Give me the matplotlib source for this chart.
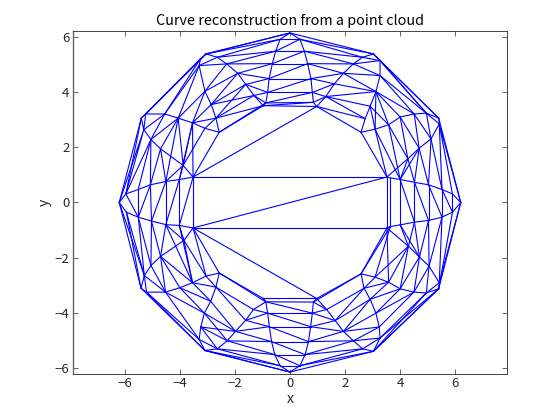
import matplotlib
matplotlib.use("Agg")
from matplotlib import pyplot as plt

plt.rcParams['font.family'] = ['Noto Sans CJK JP', 'DejaVu Sans']

# point cloud vertices
outer_names = ["E", "NE1", "NE2", "N", "NW2", "NW1", "W", "SW1", "SW2", "S", "SE2", "SE1"]
outer_x = [6.2, 5.4, 3.03, 0.0, -3.05, -5.4, -6.2, -5.41, -3.09, 0.0, 3.03, 5.4]
outer_y = [0.0, 3.05, 5.37, 6.13, 5.37, 3.05, 0.0, -3.1, -5.35, -6.13, -5.38, -3.12]

tl_names = ["lb1", "lb2", "lb3", "lc1", "lc2", "lc3", "lc4", "lc5", "ld1", "ld2", "ld3", "ld4",
            "le1", "le2", "le3", "le35", "le4", "le5", "le6", "lf0", "lf1", "lf2", "lf3", "lf4",
            "lg1", "lg2", "lg3", "lg4", "lg5", "lg6", "lg7", "lh1", "lc45"]
tl_x = [-5.24, -5.31, -5.05, -4.55, -4.06, -3.54, -2.69, -2.57, -2.86, -3.09, -3.3, -3.25,
        -2.64, -2.3, -1.9, -1.61, -1.31, -0.97, -0.88, -0.81, -0.76, -0.64, -0.52, -0.36,
        -3.52, -3.88, -4.02, -4.51, -5.07, -5.51, -5.96, -4.7, -3.09]
tl_y = [3.2, 2.63, 2.28, 3.2, 3.05, 2.88, 3.05, 2.54, 3.54, 4.02, 4.95, 5.2,
        5.25, 5.01, 4.67, 4.27, 3.87, 3.5, 3.6, 3.98, 4.48, 5.02, 5.47, 5.9,
        0.92, 1.34, 0.83, 0.76, 0.64, 0.47, 0.31, 1.94, 2.68]

tr_names = ["rb1", "rb2", "rb3", "rc1", "rc2", "rc3", "rc4", "rc45", "rc5", "rd1", "rd2", "rd3", "rd4",
            "re1", "re2", "re3", "re35", "re4", "re5", "re6", "rf0", "rf1", "rf2", "rf3", "rf4",
            "rg1", "rg15", "rg2", "rg3", "rg4", "rg5", "rg6", "rg7", "rh1"]
tr_x = [4.95, 5.42, 5.12, 4.51, 4.0, 3.58, 2.73, 3.09, 2.58, 2.91, 3.12, 3.27, 3.27,
        2.63, 2.3, 1.94, 1.61, 1.3, 0.97, 0.85, 0.81, 0.76, 0.64, 0.52, 0.36,
        3.52, 3.64, 4.28, 4.0, 4.52, 5.03, 5.52, 5.9, 4.69]
tr_y = [3.23, 2.84, 2.3, 3.2, 3.09, 2.81, 3.03, 2.65, 2.54, 3.48, 4.01, 4.59, 5.13,
        5.25, 5.01, 4.67, 4.29, 3.83, 3.47, 3.62, 3.98, 4.48, 5.02, 5.47, 5.9,
        0.92, 0.89, 1.58, 0.83, 0.73, 0.64, 0.47, 0.31, 1.96]

bl_names = ["mb1", "mb2", "mb3", "mc1", "mc2", "mc3", "mc4", "mc45", "mc5", "md1", "md2", "md25", "md3",
            "me1", "me2", "me3", "me35", "me4", "me5", "me6", "mf0", "mf1", "mf2", "mf3", "mf4",
            "mg1", "mg2", "mg3", "mg4", "mg5", "mg6", "mg7", "mh1"]
bl_x = [-5.21, -5.29, -5.05, -4.52, -4.0, -3.54, -2.69, -3.05, -2.57, -2.88, -3.11, -3.24, -3.3,
        -2.64, -2.28, -1.98, -1.61, -1.33, -0.97, -0.88, -0.81, -0.75, -0.67, -0.55, -0.36,
        -3.52, -3.85, -4.02, -4.51, -5.03, -5.51, -5.94, -4.7]
bl_y = [-3.24, -2.64, -2.28, -3.24, -3.08, -2.9, -3.06, -2.66, -2.55, -3.57, -4.0, -4.5, -4.95,
        -5.29, -5.0, -4.66, -4.26, -3.87, -3.47, -3.59, -4.0, -4.49, -5.03, -5.5, -5.9,
        -0.92, -1.37, -0.83, -0.8, -0.67, -0.53, -0.35, -1.95]

br_names = ["sb1", "sb2", "sb3", "sc1", "sc2", "sc3", "sc4", "sc45", "sc5", "sd1", "sd2", "sd25", "sd3",
            "se1", "se2", "se3", "se35", "se4", "se5", "se6", "sf0", "sf1", "sf2", "sf3", "sf4",
            "sg1", "sg15", "sg2", "sg3", "sg4", "sg5", "sg6", "sg7", "sh1"]
br_x = [4.95, 5.42, 5.05, 4.5, 4.0, 3.58, 2.69, 3.09, 2.58, 2.91, 3.12, 3.24, 3.27,
        2.64, 2.3, 1.94, 1.64, 1.33, 0.97, 0.85, 0.81, 0.75, 0.67, 0.55, 0.36,
        3.52, 3.64, 4.3, 4.0, 4.52, 5.03, 5.52, 5.9, 4.7]
br_y = [-3.27, -2.9, -2.3, -3.24, -3.12, -2.88, -3.1, -2.7, -2.58, -3.5, -4.0, -4.5, -4.9,
        -5.29, -5.0, -4.66, -4.27, -3.87, -3.47, -3.6, -4.0, -4.49, -5.03, -5.5, -5.9,
        -0.92, -0.87, -1.58, -0.81, -0.71, -0.65, -0.53, -0.35, -1.97]

# triangulation, each string is a chain of connected vertices
center_edges = [
    "lg1 rg1 sg1 mg1 lg1", "mg1 rg1", "lg1 re5", "mg1 se5",
    "lf4 rf4", "lf3 rf3", "lf2 rf2", "lf1 rf1", "lf0 rf0", "le6 re6", "le5 re5",
    "lf3 rf4", "lf2 rf3", "lf1 rf2", "lf0 rf1", "le6 rf0", "le5 re6",
    "mf4 sf4", "mf3 sf3", "mf2 sf2", "mf1 sf1", "mf0 sf0", "me6 se6", "me5 se5",
    "mf3 sf4", "mf2 sf3", "mf1 sf2", "mf0 sf1", "me6 sf0",
    # across y = 0
    "lg7 mg6", "lg6 mg6", "lg5 mg6", "lg5 mg5", "lg4 mg5", "lg4 mg4", "lg3 mg4", "lg3 mg3", "lg1 mg3",
    "rg15 sg15", "rg3 sg3", "rg3 sg4", "rg4 sg4", "rg4 sg5", "rg5 sg5", "rg5 sg6", "rg6 sg6", "rg6 sg7", "rg7 sg7",
]
tl_edges = [
    "W NW1 NW2 N", "W lg7 lg6 lg5 lg4 lg3 lg1", "NW1 lb1 NW2", "NW2 ld4 lb1 lb2 NW1", "W lb2 lg7", "lg7 NW1",
    "lb1 lc1 lc2 lc3 lc45 lc5", "lb2 lc1", "lb3 lc1", "lb3 lc2", "lb2 lb3", "lb3 lh1 lg2 lg1",
    "lh1 lc2", "lg2 lc2", "lg2 lc3", "lg1 lc3", "lg2 lc45", "lg1 lc5", "lg4 lh1 lg5", "lg4 lg2 lg3",
    "lg4 lc2", "lg3 lc3",
    "lb3 lg5", "lb3 lg6", "lb3 lg7", "lc1 ld4", "lc1 ld3", "lc2 ld3", "lc2 ld2", "lc3 ld2", "lc3 ld1",
    "lc3 lc4", "lc45 lc4", "ld4 ld3 ld2 ld1 lc4 lc5", "NW2 le1", "ld3 le1", "ld3 le2", "ld2 le2",
    "ld2 le3", "ld1 le3", "ld1 le35", "lc4 le35", "lc4 le4", "lc4 le5", "lc5 le5", "lc5 le6",
    "ld1 le4", "le1 le2 le3 le35 le4 le5", "NW2 N", "NW2 lf4", "le1 lf4", "le1 lf3", "le2 lf3", "le2 lf2",
    "le3 lf2", "le3 lf1", "le35 lf1", "le35 lf0", "le4 lf0", "le4 le6",
    "le5 le6 lf0 lf1 lf2 lf3 lf4 N",
]
tr_edges = [
    "E NE1 NE2 N", "E rg7 rg6 rg5 rg4 rg3 rg15 rg1", "NE1 rb1 rd4 NE2", "NE1 rb2 rb1", "E rb2 rg7", "NE1 rd4",
    "rb1 rc1 rc2 rc3 rc45 rc5", "rb2 rb3 rh1 rg2 rg1", "rb1 rb3", "rc1 rb3", "rc1 rh1", "rc2 rh1", "rc2 rg2",
    "rc3 rg2", "rc3 rg3", "rc45 rg3", "rc45 rg1", "rc5 rg1", "rg2 rg3", "rh1 rg3", "rh1 rg5", "rb3 rg6", "rb2 rg6",
    "rg4 rh1", "rg4 rg2", "rb3 rg5",
    "rd4 rb1", "rd3 rb1", "rd3 rc1", "rd2 rc2", "rd2 rc1", "rd2 rc3", "rd1 rc3", "rd1 rc45",
    "rd2 rc45", "NE2 rd4 rd3 rd2 rd1 rc4 rc5", "NE2 re1", "rd4 re1", "rd4 re2", "rd3 re2", "rd3 re3",
    "rd2 re3", "rd2 re35", "rd2 re4", "rd1 re4", "rc4 re4", "rc4 re5", "rc5 re5",
    "re1 re2 re3 re35 re4 re5", "N rf4", "NE2 rf4", "re1 rf4", "re1 rf3", "re2 rf3", "re2 rf2", "re3 rf2",
    "re3 rf1", "re35 rf1", "re35 rf0", "re4 rf0", "re4 re6", "re5 re6 rf0 rf1 rf2 rf3 rf4",
]
bl_edges = [
    "W SW1 SW2 S", "W mg7 mg6 mg5 mg4 mg3 mg1", "W mb2", "mg7 mb2", "mg7 SW1", "mg6 mb2", "mg6 mb3", "mg5 mb3",
    "mg5 mh1", "mg4 mh1", "mg4 mg2", "mg3 mg2", "mg3 mc3", "mh1 mg2 mg1", "mb2 mb3 mh1", "mb2 mb1", "mb2 SW1", "mb2 mc1",
    "mb3 mc1", "mh1 mc1", "mh1 mc2", "mh1 mc3", "mg2 mc3", "mg2 mc45", "mg1 mc5", "mg1 mc45", "mg4 mc3",
    "SW1 mb1 mc1 mc2 mc3 mc45 mc5", "mb1 md3", "mb1 SW2", "mc1 md3", "mc1 md2", "mc2 md2", "mc2 md1", "mc3 md1",
    "mc3 mc4", "mc45 mc4", "mc5 mc4 md1 md2 md25 md3 SW2", "md1 me3", "mc4 me35", "mc4 me4", "mc5 me6",
    "mc5 me5", "md2 me3", "md25 me3", "md25 me2", "md2 me2", "md25 me1", "md3 me1", "SW2 me1",
    "me1 me2 me3 me35 me4 me6 me5", "me1 mf4", "me1 mf3", "me2 mf3", "me2 mf2", "me3 mf2", "me3 mf1", "me35 mf1",
    "me35 mf0", "me4 mf0", "SW2 mf4", "SW2 S", "me5 me6 mf0 mf1 mf2 mf3 mf4 S",
]
br_edges = [
    "E SE1 SE2 S", "E sg7 sg6 sg5 sg4 sg3 sg15 sg1", "E sb2", "sg7 SE1", "sg6 sb2", "sg6 sb3", "sg5 sb3", "sg5 sh1",
    "sg4 sh1", "sg3 sh1", "sg3 sg2", "sg4 sg2", "sh1 sg2 sg1", "sb3 sh1", "sb3 sb1", "sb3 sb2", "sb2 SE1", "sb2 sb1",
    "sb3 sc1", "sh1 sc1", "sh1 sc2", "sg2 sc2", "sg2 sc3", "sg2 sc45", "sg15 sc45", "sg15 sc5", "sg1 sc5", "sg1 sc3",
    "SE1 sb1 sc1 sc2 sc3 sc45 sc5", "sb1 sd3", "SE1 sd3", "sb1 SE2", "SE1 SE2", "sc1 sd2", "sc1 sd25", "sc2 sd2", "sc2 sd1",
    "sc3 sd1", "sc3 sc4", "sc45 sc4", "sc5 sc4 sd1 sd2 sd25 sd3 SE2", "sd25 se3", "sd25 se2",
    "sd3 se2", "sd3 se1", "sd2 se3", "sd1 se3", "sd1 se35", "sc4 se35", "sc4 se4", "sc5 se6", "sc5 se5",
    "SE2 se1", "se1 se2 se3 se35 se4 se5", "se1 sf4", "se1 sf3", "se2 sf3", "se2 sf2", "se3 sf2", "se3 sf1",
    "se35 sf1", "se35 sf0", "se4 sf0", "se4 se6", "SE2 sf4", "se5 se6 sf0 sf1 sf2 sf3 sf4 S",
]

point_names = outer_names + tl_names + tr_names + bl_names + br_names
point_x = outer_x + tl_x + tr_x + bl_x + br_x
point_y = outer_y + tl_y + tr_y + bl_y + br_y
where = {name: i for i, name in enumerate(point_names)}

fig = plt.figure(figsize=(5.6, 4.2), dpi=100)
ax = fig.add_axes([73 / 560, 1 - 374 / 420, 434 / 560, 343 / 420])

for chain in center_edges + tl_edges + tr_edges + bl_edges + br_edges:
    ids = [where[name] for name in chain.split()]
    ax.plot([point_x[i] for i in ids], [point_y[i] for i in ids],
            color="#0000ff", lw=0.8, solid_joinstyle="round")

ax.set_xlim(-7.88, 7.88)
ax.set_ylim(-6.2, 6.2)
ax.set_xticks([-6, -4, -2, 0, 2, 4, 6])
ax.set_yticks([-6, -4, -2, 0, 2, 4, 6])
ax.tick_params(direction="in", top=True, right=True, length=3.5, width=0.5, labelsize=9.5,
               color="#262626", labelcolor="#262626", pad=2.5)
for side in ax.spines.values():
    side.set_linewidth(0.6)
    side.set_color("#262626")
ax.spines["left"].set_linewidth(1.0)
ax.spines["left"].set_color("#666666")
ax.set_xlabel("x", fontsize=10, color="#262626", labelpad=1)
ax.set_ylabel("y", fontsize=10, color="#262626", labelpad=2)
ax.set_title("Curve reconstruction from a point cloud", fontsize=10.3, color="black", pad=4)

fig.savefig("out.png", dpi=100)
